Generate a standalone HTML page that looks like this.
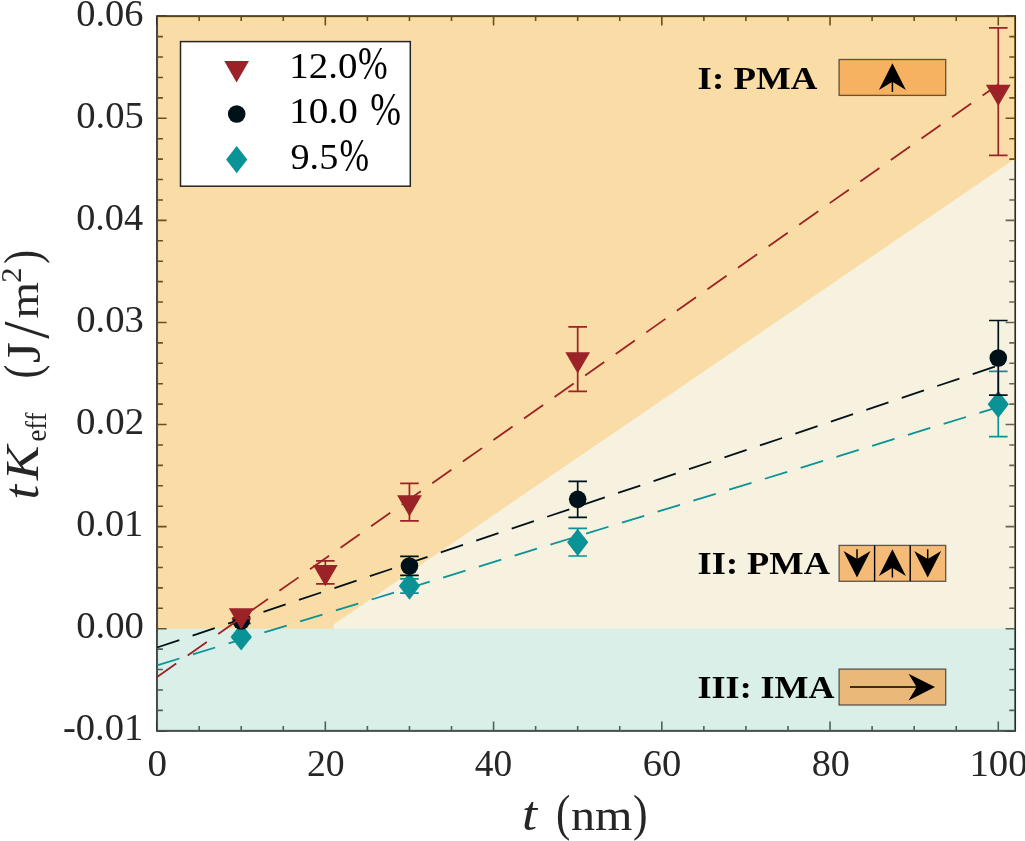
<!DOCTYPE html>
<html lang="en"><head><meta charset="utf-8"><title>t K_eff versus t</title>
<style>html,body{margin:0;padding:0;background:#fff;overflow:hidden}svg{display:block}text{font-family:"Liberation Serif","DejaVu Serif",serif}</style></head><body>
<svg width="1025" height="841" viewBox="0 0 1025 841">
<rect x="0" y="0" width="1025" height="841" fill="#ffffff"/>
<g stroke="#262626" stroke-width="1.6" fill="none" stroke-linecap="butt">
<path d="M157.1 730.8 v-9.2 M157.1 16.2 v9.2"/>
<path d="M199.16 730.8 v-4.8 M199.16 16.2 v4.8"/>
<path d="M241.22 730.8 v-4.8 M241.22 16.2 v4.8"/>
<path d="M283.28 730.8 v-4.8 M283.28 16.2 v4.8"/>
<path d="M325.34 730.8 v-9.2 M325.34 16.2 v9.2"/>
<path d="M367.39 730.8 v-4.8 M367.39 16.2 v4.8"/>
<path d="M409.45 730.8 v-4.8 M409.45 16.2 v4.8"/>
<path d="M451.51 730.8 v-4.8 M451.51 16.2 v4.8"/>
<path d="M493.57 730.8 v-9.2 M493.57 16.2 v9.2"/>
<path d="M535.63 730.8 v-4.8 M535.63 16.2 v4.8"/>
<path d="M577.69 730.8 v-4.8 M577.69 16.2 v4.8"/>
<path d="M619.75 730.8 v-4.8 M619.75 16.2 v4.8"/>
<path d="M661.81 730.8 v-9.2 M661.81 16.2 v9.2"/>
<path d="M703.86 730.8 v-4.8 M703.86 16.2 v4.8"/>
<path d="M745.92 730.8 v-4.8 M745.92 16.2 v4.8"/>
<path d="M787.98 730.8 v-4.8 M787.98 16.2 v4.8"/>
<path d="M830.04 730.8 v-9.2 M830.04 16.2 v9.2"/>
<path d="M872.1 730.8 v-4.8 M872.1 16.2 v4.8"/>
<path d="M914.16 730.8 v-4.8 M914.16 16.2 v4.8"/>
<path d="M956.22 730.8 v-4.8 M956.22 16.2 v4.8"/>
<path d="M998.28 730.8 v-9.2 M998.28 16.2 v9.2"/>
<path d="M157.1 730.8 h9.5 M1015.1 730.8 h-9.5"/>
<path d="M157.1 710.38 h5.8 M1015.1 710.38 h-5.8"/>
<path d="M157.1 689.97 h5.8 M1015.1 689.97 h-5.8"/>
<path d="M157.1 669.55 h5.8 M1015.1 669.55 h-5.8"/>
<path d="M157.1 649.13 h5.8 M1015.1 649.13 h-5.8"/>
<path d="M157.1 628.71 h9.5 M1015.1 628.71 h-9.5"/>
<path d="M157.1 608.3 h5.8 M1015.1 608.3 h-5.8"/>
<path d="M157.1 587.88 h5.8 M1015.1 587.88 h-5.8"/>
<path d="M157.1 567.46 h5.8 M1015.1 567.46 h-5.8"/>
<path d="M157.1 547.05 h5.8 M1015.1 547.05 h-5.8"/>
<path d="M157.1 526.63 h9.5 M1015.1 526.63 h-9.5"/>
<path d="M157.1 506.21 h5.8 M1015.1 506.21 h-5.8"/>
<path d="M157.1 485.79 h5.8 M1015.1 485.79 h-5.8"/>
<path d="M157.1 465.38 h5.8 M1015.1 465.38 h-5.8"/>
<path d="M157.1 444.96 h5.8 M1015.1 444.96 h-5.8"/>
<path d="M157.1 424.54 h9.5 M1015.1 424.54 h-9.5"/>
<path d="M157.1 404.13 h5.8 M1015.1 404.13 h-5.8"/>
<path d="M157.1 383.71 h5.8 M1015.1 383.71 h-5.8"/>
<path d="M157.1 363.29 h5.8 M1015.1 363.29 h-5.8"/>
<path d="M157.1 342.87 h5.8 M1015.1 342.87 h-5.8"/>
<path d="M157.1 322.46 h9.5 M1015.1 322.46 h-9.5"/>
<path d="M157.1 302.04 h5.8 M1015.1 302.04 h-5.8"/>
<path d="M157.1 281.62 h5.8 M1015.1 281.62 h-5.8"/>
<path d="M157.1 261.21 h5.8 M1015.1 261.21 h-5.8"/>
<path d="M157.1 240.79 h5.8 M1015.1 240.79 h-5.8"/>
<path d="M157.1 220.37 h9.5 M1015.1 220.37 h-9.5"/>
<path d="M157.1 199.95 h5.8 M1015.1 199.95 h-5.8"/>
<path d="M157.1 179.54 h5.8 M1015.1 179.54 h-5.8"/>
<path d="M157.1 159.12 h5.8 M1015.1 159.12 h-5.8"/>
<path d="M157.1 138.7 h5.8 M1015.1 138.7 h-5.8"/>
<path d="M157.1 118.29 h9.5 M1015.1 118.29 h-9.5"/>
<path d="M157.1 97.87 h5.8 M1015.1 97.87 h-5.8"/>
<path d="M157.1 77.45 h5.8 M1015.1 77.45 h-5.8"/>
<path d="M157.1 57.03 h5.8 M1015.1 57.03 h-5.8"/>
<path d="M157.1 36.62 h5.8 M1015.1 36.62 h-5.8"/>
<path d="M157.1 16.2 h9.5 M1015.1 16.2 h-9.5"/>
</g>
<rect x="157.1" y="16.2" width="858" height="714.6" fill="none" stroke="#262626" stroke-width="1.9"/>
<g fill-opacity="0.35" stroke="none">
<polygon fill="#ee9b00" points="157.1,16.2 1015.1,16.2 1015.1,158.8 333.7,624.4 333.7,628.71 157.1,628.71"/>
<polygon fill="#e9d8a6" points="333.7,628.71 333.7,624.4 1015.1,158.8 1015.1,628.71"/>
<rect fill="#94d2bd" x="157.1" y="628.71" width="858" height="102.09"/>
</g>
<line x1="157.1" y1="665.36" x2="998.28" y2="407.09" stroke="#0a9396" stroke-width="1.8" stroke-dasharray="23.4 14"/>
<path d="M241.22 635.6 V638.4 M231.92 635.6 h18.6 M231.92 638.4 h18.6" stroke="#0a9396" stroke-width="1.7" fill="none"/>
<path d="M409.45 578.8 V593.1 M400.15 578.8 h18.6 M400.15 593.1 h18.6" stroke="#0a9396" stroke-width="1.7" fill="none"/>
<path d="M577.69 528.3 V556 M568.39 528.3 h18.6 M568.39 556 h18.6" stroke="#0a9396" stroke-width="1.7" fill="none"/>
<path d="M998.28 371.3 V436.6 M988.98 371.3 h18.6 M988.98 436.6 h18.6" stroke="#0a9396" stroke-width="1.7" fill="none"/>
<polygon points="241.22,623.18 251.82,636.88 241.22,650.58 230.62,636.88" fill="#0a9396"/>
<polygon points="409.45,572.34 420.05,586.04 409.45,599.74 398.85,586.04" fill="#0a9396"/>
<polygon points="577.69,528.65 588.29,542.35 577.69,556.05 567.09,542.35" fill="#0a9396"/>
<polygon points="998.28,390.63 1008.88,404.33 998.28,418.03 987.68,404.33" fill="#0a9396"/>
<line x1="157.1" y1="647.5" x2="998.28" y2="365.54" stroke="#001219" stroke-width="1.8" stroke-dasharray="23.4 14"/>
<path d="M241.22 618.6 V623.4 M231.92 618.6 h18.6 M231.92 623.4 h18.6" stroke="#001219" stroke-width="1.7" fill="none"/>
<path d="M409.45 556.3 V575.3 M400.15 556.3 h18.6 M400.15 575.3 h18.6" stroke="#001219" stroke-width="1.7" fill="none"/>
<path d="M577.69 481.3 V517.3 M568.39 481.3 h18.6 M568.39 517.3 h18.6" stroke="#001219" stroke-width="1.7" fill="none"/>
<path d="M998.28 320.5 V395.1 M988.98 320.5 h18.6 M988.98 395.1 h18.6" stroke="#001219" stroke-width="1.7" fill="none"/>
<circle cx="241.22" cy="621.06" r="8.8" fill="#001219"/>
<circle cx="409.45" cy="565.93" r="8.8" fill="#001219"/>
<circle cx="577.69" cy="499.37" r="8.8" fill="#001219"/>
<circle cx="998.28" cy="357.98" r="8.8" fill="#001219"/>
<line x1="157.1" y1="677" x2="998.28" y2="84.39" stroke="#9b2226" stroke-width="1.8" stroke-dasharray="23.4 14"/>
<path d="M241.22 611.5 V618.3 M231.92 611.5 h18.6 M231.92 618.3 h18.6" stroke="#9b2226" stroke-width="1.7" fill="none"/>
<path d="M325.34 560.8 V583.8 M316.04 560.8 h18.6 M316.04 583.8 h18.6" stroke="#9b2226" stroke-width="1.7" fill="none"/>
<path d="M409.45 483.3 V520.9 M400.15 483.3 h18.6 M400.15 520.9 h18.6" stroke="#9b2226" stroke-width="1.7" fill="none"/>
<path d="M577.69 326.9 V391.3 M568.39 326.9 h18.6 M568.39 391.3 h18.6" stroke="#9b2226" stroke-width="1.7" fill="none"/>
<path d="M998.28 27.8 V155.3 M988.98 27.8 h18.6 M988.98 155.3 h18.6" stroke="#9b2226" stroke-width="1.7" fill="none"/>
<polygon points="228.87,608.14 253.57,608.14 241.22,629.44" fill="#9b2226"/>
<polygon points="312.99,564.96 337.69,564.96 325.34,586.26" fill="#9b2226"/>
<polygon points="397.1,495.13 421.8,495.13 409.45,516.43" fill="#9b2226"/>
<polygon points="565.34,352.21 590.04,352.21 577.69,373.51" fill="#9b2226"/>
<polygon points="985.93,84.64 1010.63,84.64 998.28,105.94" fill="#9b2226"/>
<text x="147.64" y="776.4" font-size="38.7" fill="#262626" textLength="19.52" lengthAdjust="spacingAndGlyphs">0</text>
<text x="306.89" y="776.4" font-size="38.7" fill="#262626" textLength="37.72" lengthAdjust="spacingAndGlyphs">20</text>
<text x="474.85" y="776.4" font-size="38.7" fill="#262626" textLength="37.34" lengthAdjust="spacingAndGlyphs">40</text>
<text x="642.66" y="776.4" font-size="38.7" fill="#262626" textLength="38.59" lengthAdjust="spacingAndGlyphs">60</text>
<text x="811.67" y="776.4" font-size="38.7" fill="#262626" textLength="38.15" lengthAdjust="spacingAndGlyphs">80</text>
<text x="969.41" y="776.4" font-size="38.7" fill="#262626" textLength="58.14" lengthAdjust="spacingAndGlyphs">100</text>
<text x="62.96" y="740.2" font-size="38.7" fill="#262626" textLength="80.38" lengthAdjust="spacingAndGlyphs">-0.01</text>
<text x="76.15" y="638.11" font-size="38.7" fill="#262626" textLength="67.69" lengthAdjust="spacingAndGlyphs">0.00</text>
<text x="76.17" y="536.03" font-size="38.7" fill="#262626" textLength="67.03" lengthAdjust="spacingAndGlyphs">0.01</text>
<text x="76.14" y="433.94" font-size="38.7" fill="#262626" textLength="68.1" lengthAdjust="spacingAndGlyphs">0.02</text>
<text x="76.15" y="331.86" font-size="38.7" fill="#262626" textLength="67.69" lengthAdjust="spacingAndGlyphs">0.03</text>
<text x="76.17" y="229.77" font-size="38.7" fill="#262626" textLength="66.89" lengthAdjust="spacingAndGlyphs">0.04</text>
<text x="76.15" y="127.69" font-size="38.7" fill="#262626" textLength="67.69" lengthAdjust="spacingAndGlyphs">0.05</text>
<text x="76.16" y="25.6" font-size="38.7" fill="#262626" textLength="67.29" lengthAdjust="spacingAndGlyphs">0.06</text>
<text><tspan x="522.03" y="829.5" font-size="49.11" fill="#262626" font-style="italic" textLength="15.07" lengthAdjust="spacingAndGlyphs">t</tspan> <tspan x="555.88" y="830.15" font-size="49.78" fill="#262626" textLength="14.35" lengthAdjust="spacingAndGlyphs">(</tspan><tspan x="571.04" y="829.5" font-size="43.62" fill="#262626" textLength="61.53" lengthAdjust="spacingAndGlyphs">nm</tspan><tspan x="633.08" y="830.15" font-size="49.78" fill="#262626" textLength="14.61" lengthAdjust="spacingAndGlyphs">)</tspan></text>
<g transform="translate(38.4 498) rotate(-90)">
<text><tspan x="-1.49" y="0" font-size="50.54" fill="#262626" font-style="italic" textLength="14.54" lengthAdjust="spacingAndGlyphs">t</tspan><tspan x="17.72" y="0" font-size="47.23" fill="#262626" font-style="italic" textLength="34.65" lengthAdjust="spacingAndGlyphs">K</tspan><tspan x="56.54" y="7.3" font-size="30" fill="#262626" textLength="29.01" lengthAdjust="spacingAndGlyphs">eff</tspan> <tspan x="119.62" y="0.42" font-size="49.89" fill="#262626" textLength="13.97" lengthAdjust="spacingAndGlyphs">(</tspan><tspan x="134.93" y="1.11" font-size="49.09" fill="#262626" textLength="20.8" lengthAdjust="spacingAndGlyphs">J</tspan><tspan x="159.3" y="9.47" font-size="66.27" fill="#262626" textLength="17.37" lengthAdjust="spacingAndGlyphs">/</tspan><tspan x="179.56" y="0" font-size="42.55" fill="#262626" textLength="36.48" lengthAdjust="spacingAndGlyphs">m</tspan><tspan x="215.18" y="-17.5" font-size="30.15" fill="#262626" textLength="15.24" lengthAdjust="spacingAndGlyphs">2</tspan><tspan x="234.17" y="0.42" font-size="49.89" fill="#262626" textLength="13.71" lengthAdjust="spacingAndGlyphs">)</tspan></text>
</g>
<rect x="180.5" y="41.6" width="229.8" height="144.6" fill="#ffffff" stroke="#262626" stroke-width="1.5"/>
<polygon points="224.25,61.1 248.95,61.1 236.6,82.4" fill="#9b2226"/>
<circle cx="236.7" cy="114" r="8.8" fill="#001219"/>
<polygon points="236.7,145.9 247.3,159.6 236.7,173.3 226.1,159.6" fill="#0a9396"/>
<text><tspan x="289.3" y="77.6" font-size="36.82" fill="#000" textLength="68.06" lengthAdjust="spacingAndGlyphs">12.0</tspan><tspan x="358.03" y="79.39" font-size="45.74" fill="#000" textLength="29.65" lengthAdjust="spacingAndGlyphs">%</tspan></text>
<text><tspan x="289.28" y="123.4" font-size="36.82" fill="#000" textLength="68.49" lengthAdjust="spacingAndGlyphs">10.0</tspan> <tspan x="370.19" y="125.09" font-size="45.74" fill="#000" textLength="30.73" lengthAdjust="spacingAndGlyphs">%</tspan></text>
<text><tspan x="290.56" y="169.1" font-size="36.82" fill="#000" textLength="47.67" lengthAdjust="spacingAndGlyphs">9.5</tspan><tspan x="339.44" y="170.69" font-size="45.74" fill="#000" textLength="29.54" lengthAdjust="spacingAndGlyphs">%</tspan></text>
<text x="697.59" y="89" font-size="31.97" fill="#000" font-weight="bold" textLength="119.74" lengthAdjust="spacingAndGlyphs">I: PMA</text>
<text x="697.61" y="573.5" font-size="31.67" fill="#000" font-weight="bold" textLength="132.29" lengthAdjust="spacingAndGlyphs">II: PMA</text>
<text x="697.62" y="697.9" font-size="31.97" fill="#000" font-weight="bold" textLength="136.99" lengthAdjust="spacingAndGlyphs">III: IMA</text>
<rect x="839.1" y="59.5" width="106.6" height="35.9" fill="#f49835" fill-opacity="0.62" stroke="#262626" stroke-opacity="0.72" stroke-width="1.3"/>
<path d="M892.4 63.3 L905.9 89.9 L892.4 81.7 L878.9 89.9 Z" fill="#000"/>
<line x1="892.4" y1="73.3" x2="892.4" y2="91.9" stroke="#000" stroke-width="1.5"/>
<rect x="839.1" y="545.4" width="106.6" height="35.9" fill="#f49835" fill-opacity="0.62" stroke="#262626" stroke-opacity="0.72" stroke-width="1.3"/>
<path d="M874.6 545.4 V581.3 M910.2 545.4 V581.3" stroke="#000" stroke-width="1.4" fill="none"/>
<path d="M857 577.5 L870.5 550.9 L857 559.1 L843.5 550.9 Z" fill="#000"/>
<line x1="857" y1="567.5" x2="857" y2="549.3" stroke="#000" stroke-width="1.5"/>
<path d="M892.4 549.3 L905.9 575.9 L892.4 567.7 L878.9 575.9 Z" fill="#000"/>
<line x1="892.4" y1="559.3" x2="892.4" y2="577.5" stroke="#000" stroke-width="1.5"/>
<path d="M927.7 577.5 L941.2 550.9 L927.7 559.1 L914.2 550.9 Z" fill="#000"/>
<line x1="927.7" y1="567.5" x2="927.7" y2="549.3" stroke="#000" stroke-width="1.5"/>
<rect x="839.1" y="669.1" width="106.6" height="35.9" fill="#f49835" fill-opacity="0.62" stroke="#262626" stroke-opacity="0.72" stroke-width="1.3"/>
<line x1="849.9" y1="687.1" x2="920" y2="687.1" stroke="#000" stroke-width="1.5"/>
<path d="M935 687.1 L908.5 673.8 L916.6 687.1 L908.5 700.4 Z" fill="#000"/>
</svg></body></html>
